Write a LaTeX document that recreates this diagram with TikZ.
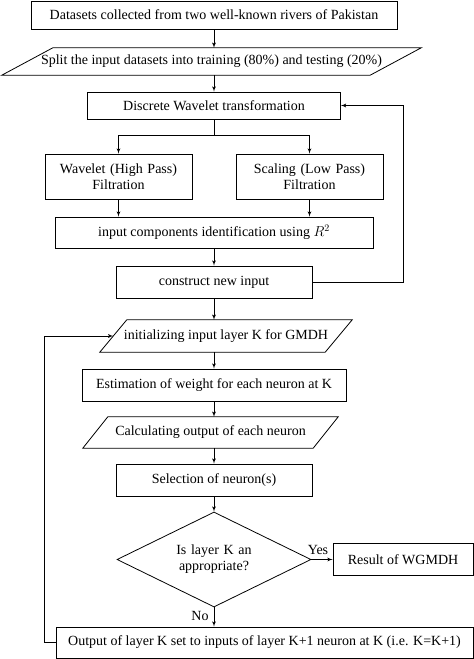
\documentclass[tikz,border=0pt]{standalone}
\usepackage{fontspec}
\setmainfont{Liberation Serif}
\usepackage{tikz}
\usetikzlibrary{shapes,arrows}
\tikzstyle{process} = [rectangle, draw, text centered, inner sep=1pt, line width=0.8pt]
\tikzstyle{data} = [rectangle, text centered, inner sep=1pt]
\tikzstyle{decision} = [diamond, draw, shape aspect=2, text width=110pt,
    text centered, inner sep=0pt, line width=0.8pt]
\tikzstyle{flow} = [draw, -latex', line width=0.8pt]
% slanted outline round a data node: name, half of the slant
\newcommand{\slantbox}[2]{\path [draw, line width=0.8pt] ([xshift=#2]#1.north west) -- ([xshift=#2]#1.north east)
    -- ([xshift=-#2]#1.south east) -- ([xshift=-#2]#1.south west) -- cycle;}

\begin{document}
\begin{tikzpicture}[x=1pt, y=1pt, node distance=40pt, auto, font=\fontsize{14}{16}\selectfont]
    \useasboundingbox (0,0) rectangle (474,-659);
    % Place nodes
    \node [process, minimum width=366pt, minimum height=28pt, at={(214,-15)}] (datasets) {Datasets collected from two well-known rivers of Pakistan};

    \node [data, below of=datasets, node distance=46.5pt, xshift=-2.5pt, minimum width=368pt, minimum height=27pt] (split) {Split the input datasets into training (80\%) and testing (20\%)};

    \node [process, below of=split, node distance=44pt, xshift=2.5pt, minimum width=253pt, minimum height=27pt] (dwt) {Discrete Wavelet transformation};

    \node [process, at={(118.5,-176.5)}, text width=140pt, minimum width=147pt, minimum height=45pt] (wavelet) {Wavelet (High Pass)\\Filtration};
    \node [process, right of=wavelet, node distance=191pt, text width=140pt, minimum width=147pt, minimum height=45pt] (scaling) {Scaling (Low Pass)\\Filtration};

    \node [process, below of=dwt, node distance=127pt, minimum width=318pt, minimum height=31pt] (components) {input components identification using $R^2$};

    \node [process, below of=components, node distance=49.5pt, minimum width=196pt, minimum height=32pt] (construct) {construct new input};

    \node [data, below of=construct, node distance=54pt, xshift=12pt, minimum width=225pt, minimum height=32pt] (init) {initializing input layer K for GMDH};

    \node [process, below of=construct, node distance=103pt, minimum width=264pt, minimum height=32pt] (weight) {Estimation of weight for each neuron at K};

    \node [data, below of=weight, node distance=47.5pt, xshift=-3.5pt, minimum width=230pt, minimum height=31pt] (calc) {Calculating output of each neuron};

    \node [process, below of=weight, node distance=95pt, minimum width=196pt, minimum height=32pt] (selection) {Selection of neuron(s)};

    \node [decision, below of=selection, node distance=79.5pt, minimum width=194pt, minimum height=95pt] (check) {Is layer K an\\appropriate?};

    \node [process, right of=check, node distance=189pt, minimum width=140pt, minimum height=32pt] (result) {Result of WGMDH};

    \node [process, below of=check, node distance=83pt, xshift=50.5pt, minimum width=417pt, minimum height=31pt] (output) {Output of layer K set to inputs of layer K+1 neuron at K (i.e. K=K+1)};

    \coordinate [below of=dwt, node distance=29.5pt] (fork);

    % Slanted outlines
    \slantbox{split}{25.5pt}
    \slantbox{init}{13.5pt}
    \slantbox{calc}{12.5pt}

    % Draw lines
    \path [flow] (datasets) -- (datasets |- split.north);
    \path [flow] (dwt |- split.south) -- (dwt);
    \path [draw, line width=0.8pt] (dwt) -- (fork);
    \path [flow] (fork) -| (wavelet.north);
    \path [flow] (fork) -| (scaling.north);
    \path [flow] (wavelet) -- (wavelet |- components.north);
    \path [flow] (scaling) -- (scaling |- components.north);
    \path [flow] (components) -- (construct);
    \path [flow] (construct) -- (construct |- init.north);
    \path [flow] (weight |- init.south) -- (weight);
    \path [flow] (weight) -- (weight |- calc.north);
    \path [flow] (selection |- calc.south) -- (selection);
    \path [flow] (selection) -- (check);
    \path [flow] (check) -- (result);
    \path [flow] (check) -- (check |- output.north);

    % Loops
    \path [flow] (construct.east) -- ++(91pt,0) |- (dwt.east);
    \path [flow] (output.west) -- ++(-11pt,0) |- (init.west);

    % Yes / No text
    \node [at={(318,-550)}] {Yes};
    \node [at={(200,-616)}] {No};

\end{tikzpicture}
\end{document}
